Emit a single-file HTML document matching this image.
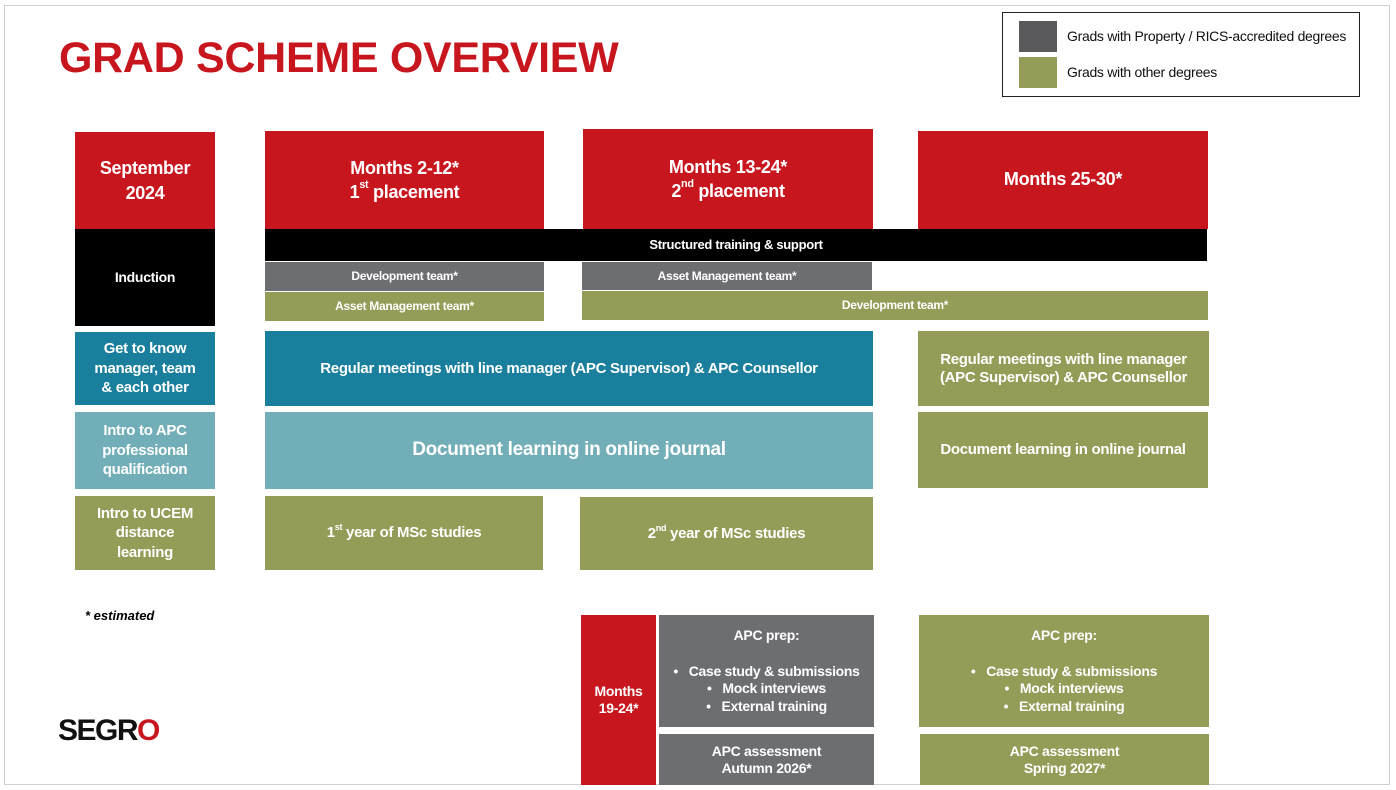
<!DOCTYPE html>
<html><head><meta charset="utf-8"><style>
*{margin:0;padding:0;box-sizing:border-box}
body{width:1396px;height:790px;background:#fff;position:relative;overflow:hidden;font-family:"Liberation Sans",sans-serif}
.frame{position:absolute;left:4px;top:5px;width:1386px;height:780px;border:1px solid #d0d0d0}
.b{position:absolute;display:flex;align-items:center;justify-content:center;text-align:center;color:#fff;line-height:1.2;letter-spacing:-0.3px}
.h{font-weight:bold}
.r{background:#C8161E}.k{background:#000}.g{background:#6D6E71}.o{background:#959C57}.t{background:#1A7E9D}.lt{background:#72AEB7}
sup{font-size:60%;vertical-align:top;position:relative;top:-2px}
</style></head><body>
<div class="frame"></div>
<div style="position:absolute;left:59px;top:34px;font-weight:bold;font-size:43px;color:#C8161E;letter-spacing:-0.3px">GRAD SCHEME OVERVIEW</div>
<div style="position:absolute;left:1002px;top:12px;width:358px;height:85px;border:1px solid #222"></div>
<div style="position:absolute;left:1019px;top:21px;width:38px;height:31px;background:#5a5a5c"></div>
<div style="position:absolute;left:1019px;top:57px;width:38px;height:31px;background:#959C57"></div>
<div style="position:absolute;left:1067px;top:28px;font-size:14px;color:#111;letter-spacing:-0.3px">Grads with Property / RICS-accredited degrees</div>
<div style="position:absolute;left:1067px;top:64px;font-size:14px;color:#111;letter-spacing:-0.3px">Grads with other degrees</div>

<div class="b r h" style="left:75px;top:132px;width:140px;height:97px;font-size:18px;line-height:1.35"><div>September<br>2024</div></div>
<div class="b k h" style="left:75px;top:229px;width:140px;height:97px;font-size:14px"><div>Induction</div></div>
<div class="b r h" style="left:265px;top:131px;width:279px;height:98px;font-size:18px;line-height:1.35"><div>Months 2-12*<br>1<sup>st</sup> placement</div></div>
<div class="b r h" style="left:583px;top:129px;width:290px;height:100px;font-size:18px;line-height:1.35"><div>Months 13-24*<br>2<sup>nd</sup> placement</div></div>
<div class="b r h" style="left:918px;top:131px;width:290px;height:98px;font-size:18px"><div>Months 25-30*</div></div>
<div class="b k h" style="left:265px;top:229px;width:942px;height:32px;font-size:13px"><div>Structured training &amp; support</div></div>
<div class="b g h" style="left:265px;top:262px;width:279px;height:29px;font-size:12px"><div>Development team*</div></div>
<div class="b o h" style="left:265px;top:292px;width:279px;height:29px;font-size:12px"><div>Asset Management team*</div></div>
<div class="b g h" style="left:582px;top:262px;width:290px;height:28px;font-size:12px"><div>Asset Management team*</div></div>
<div class="b o h" style="left:582px;top:291px;width:626px;height:29px;font-size:12px"><div>Development team*</div></div>

<div class="b t h" style="left:75px;top:332px;width:140px;height:73px;font-size:15px;line-height:1.3"><div>Get to know<br>manager, team<br>&amp; each other</div></div>
<div class="b t h" style="left:265px;top:331px;width:608px;height:75px;font-size:15px"><div>Regular meetings with line manager (APC Supervisor) &amp; APC Counsellor</div></div>
<div class="b o h" style="left:918px;top:331px;width:291px;height:75px;font-size:15px"><div>Regular meetings with line manager<br>(APC Supervisor) &amp; APC Counsellor</div></div>

<div class="b lt h" style="left:75px;top:412px;width:140px;height:77px;font-size:15px;line-height:1.3"><div>Intro to APC<br>professional<br>qualification</div></div>
<div class="b lt h" style="left:265px;top:412px;width:608px;height:77px;font-size:19px"><div>Document learning in online journal</div></div>
<div class="b o h" style="left:918px;top:412px;width:290px;height:76px;font-size:15px"><div>Document learning in online journal</div></div>

<div class="b o h" style="left:75px;top:496px;width:140px;height:74px;font-size:15px;line-height:1.3"><div>Intro to UCEM<br>distance<br>learning</div></div>
<div class="b o h" style="left:265px;top:496px;width:278px;height:74px;font-size:15px"><div>1<sup>st</sup> year of MSc studies</div></div>
<div class="b o h" style="left:580px;top:497px;width:293px;height:73px;font-size:15px"><div>2<sup>nd</sup> year of MSc studies</div></div>

<div style="position:absolute;left:85px;top:608px;font-size:13px;font-style:italic;font-weight:bold">* estimated</div>
<div style="position:absolute;left:58px;top:714px;font-size:30px;font-weight:bold;letter-spacing:-1.5px;color:#111">SEGR<span style="color:#C8161E">O</span></div>

<div class="b r h" style="left:581px;top:615px;width:75px;height:170px;font-size:14px"><div>Months<br>19-24*</div></div>
<div class="b g h" style="left:659px;top:615px;width:215px;height:112px;font-size:14px;flex-direction:column;line-height:1.25"><div style="margin-bottom:18px">APC prep:</div><div>•&nbsp;&nbsp; Case study &amp; submissions</div><div>•&nbsp;&nbsp; Mock interviews</div><div>•&nbsp;&nbsp; External training</div></div>
<div class="b g h" style="left:659px;top:734px;width:215px;height:51px;font-size:14px"><div>APC assessment<br>Autumn 2026*</div></div>
<div class="b o h" style="left:919px;top:615px;width:290px;height:112px;font-size:14px;flex-direction:column;line-height:1.25"><div style="margin-bottom:18px">APC prep:</div><div>•&nbsp;&nbsp; Case study &amp; submissions</div><div>•&nbsp;&nbsp; Mock interviews</div><div>•&nbsp;&nbsp; External training</div></div>
<div class="b o h" style="left:920px;top:734px;width:289px;height:51px;font-size:14px"><div>APC assessment<br>Spring 2027*</div></div>
</body></html>
